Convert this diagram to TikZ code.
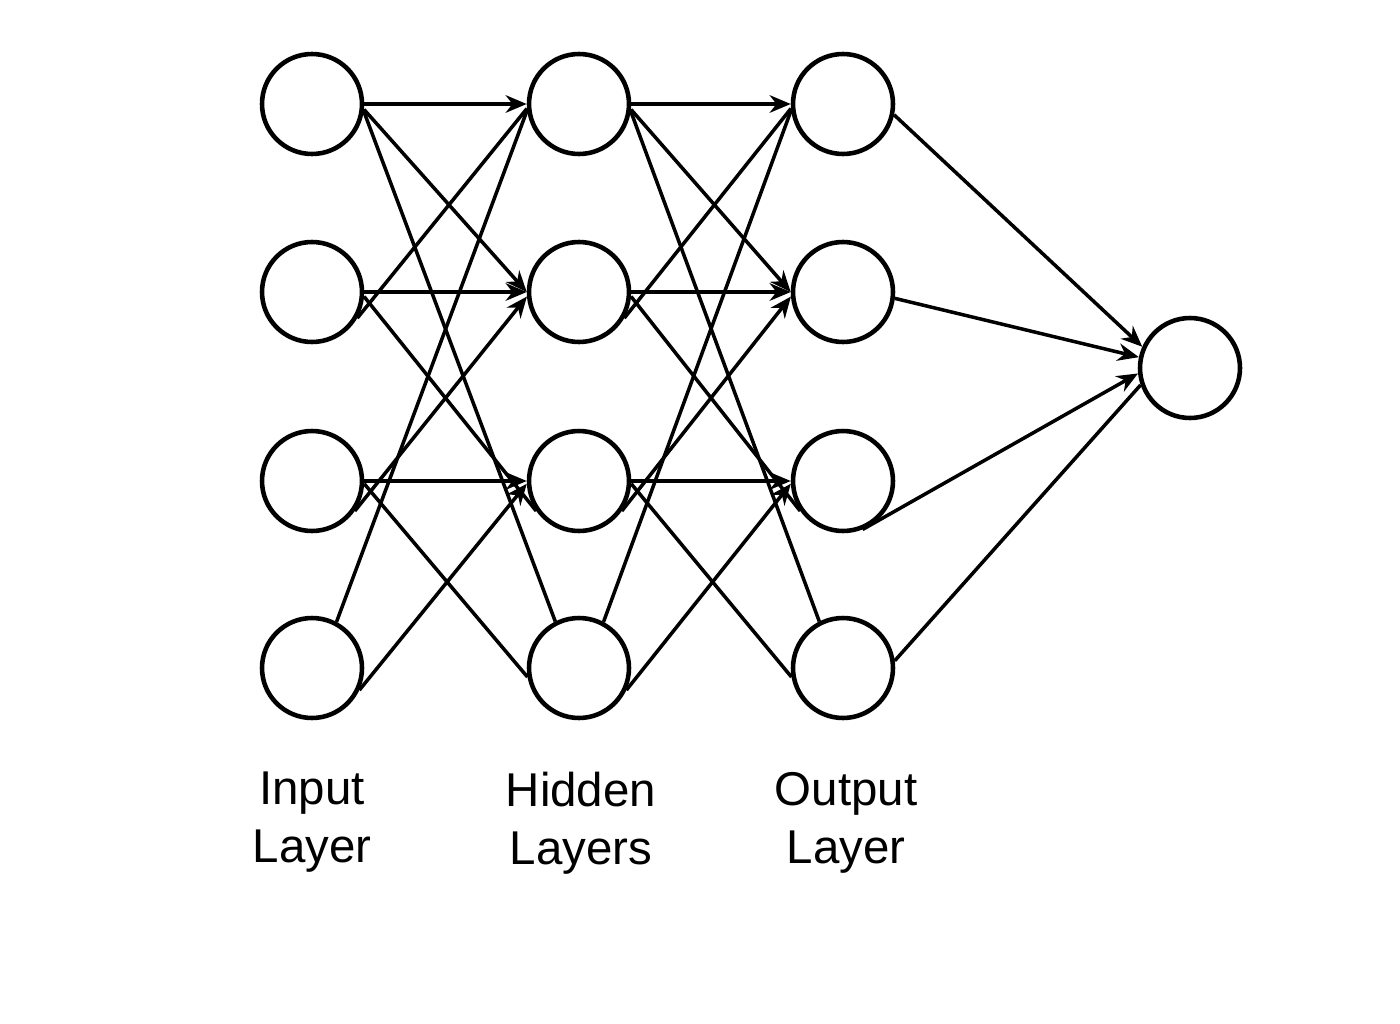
\documentclass[tikz,border=0pt]{standalone}
\usepackage{fontspec}
\setmainfont{Liberation Sans}
\usetikzlibrary{arrows.meta}
\begin{document}
\begin{tikzpicture}[x=0.02cm,y=-0.02cm,line join=round,
  neuron/.style={draw,circle,line width=2.6pt,minimum size=2cm,inner sep=0pt},
  link/.style={line width=2pt},
  feed/.style={link,-{Stealth[length=12pt,width=10pt]}},
  layername/.style={align=center,font=\fontsize{27}{33}\selectfont,inner sep=0pt,anchor=north}]
  \useasboundingbox (0,0) rectangle (1400,1024);
  % neurons
  \node[neuron] (I1) at (312,104) {};
  \node[neuron] (I2) at (312,292) {};
  \node[neuron] (I3) at (312,481) {};
  \node[neuron] (I4) at (312,668) {};
  \node[neuron] (H1) at (579,104) {};
  \node[neuron] (H2) at (579,292) {};
  \node[neuron] (H3) at (579,481) {};
  \node[neuron] (H4) at (579,668) {};
  \node[neuron] (O1) at (843,104) {};
  \node[neuron] (O2) at (843,292) {};
  \node[neuron] (O3) at (843,481) {};
  \node[neuron] (O4) at (843,668) {};
  \node[neuron] (out) at (1190,368) {};
  % links between neighbouring layers
  \foreach \a/\b in {I/H,H/O} {
    \draw[feed] (\a1.east) -- (\b1.west);
    \draw[feed] (\a1.-6) -- (\b2.180);
    \draw[link] (\a1.-8) -- (\b4.117);
    \draw[link] (\a2.-30) -- (\b1.185);
    \draw[feed] (\a2.east) -- (\b2.west);
    \draw[link] (\a2.-5) -- (\b3.215);
    \draw[feed] (\a3.east) -- (\b3.west);
    \draw[link] (\a3.-3) -- (\b4.190);
    \draw[feed] (\a3.-35) -- (\b2.185);
    \draw[link] (\a4.62) -- (\b1.187);
    \draw[feed] (\a4.-25) -- (\b3.183);
  }
  % links into the last neuron
  \draw[feed] (O1.-12) -- (out.156);
  \draw[feed] (O2.-7) -- (out.168);
  \draw[feed] (O3.-68) -- (out.186);
  \draw[link] (O4.8) -- (out.199);
  % layer names
  \node[layername] (inname) at (312,772) {Input\\Layer};
  \node[layername] (hidname) at (581,772) {Hidden\\Layers};
  \node[layername] (outname) at (846,772) {Output\\Layer};
\end{tikzpicture}
\end{document}
